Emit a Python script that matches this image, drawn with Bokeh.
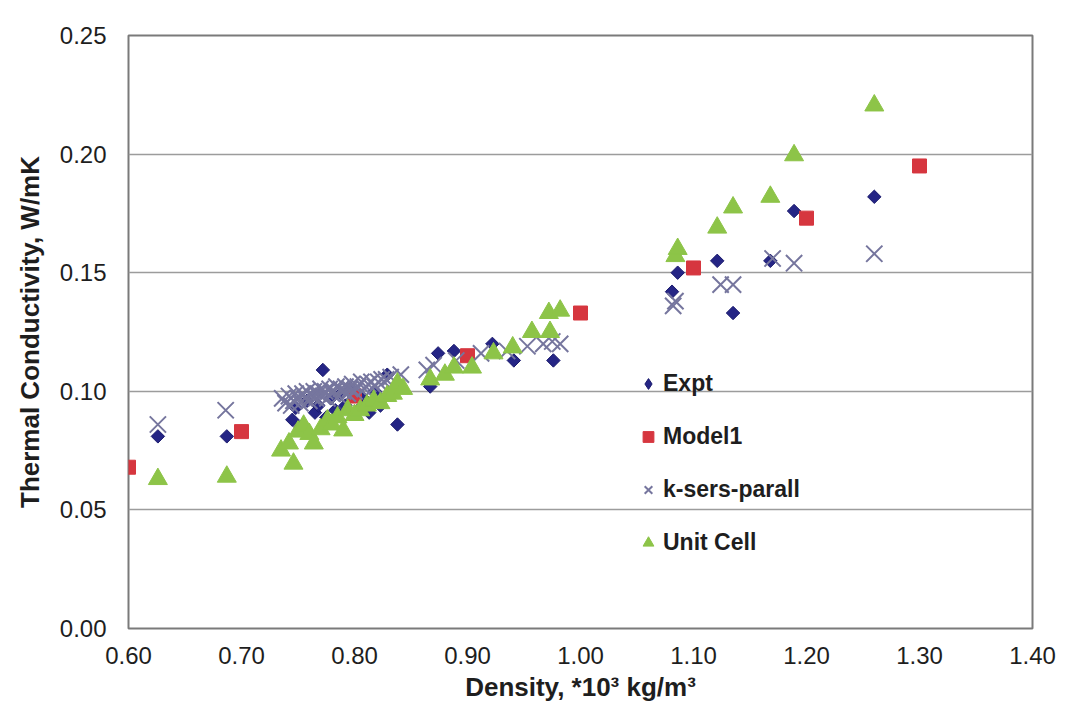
import numpy as np
from bokeh.plotting import figure
from bokeh.models import (Legend, LegendItem, FixedTicker, NumeralTickFormatter,
                          Range1d, ColumnDataSource)
from bokeh.embed import file_html
from bokeh.resources import INLINE

# Density (*10^3 kg/m^3) and thermal conductivity (W/mK) for each series
expt_x = [0.626, 0.687, 0.745, 0.748, 0.752, 0.758, 0.765, 0.768, 0.772, 0.775,
          0.779, 0.783, 0.788, 0.792, 0.797, 0.803, 0.808, 0.813, 0.818, 0.823,
          0.829, 0.838, 0.867, 0.874, 0.888, 0.922, 0.941, 0.976,
          1.081, 1.086, 1.121, 1.135, 1.168, 1.189, 1.260]
expt_y = [0.081, 0.081, 0.088, 0.093, 0.085, 0.096, 0.091, 0.094, 0.109, 0.089,
          0.097, 0.092, 0.099, 0.094, 0.101, 0.092, 0.097, 0.091, 0.100, 0.094,
          0.107, 0.086, 0.102, 0.116, 0.117, 0.120, 0.113, 0.113,
          0.142, 0.150, 0.155, 0.133, 0.155, 0.176, 0.182]

model1_x = [0.60, 0.70, 0.80, 0.90, 1.00, 1.10, 1.20, 1.30]
model1_y = [0.068, 0.083, 0.098, 0.115, 0.133, 0.152, 0.173, 0.195]

ksp_x = [0.626, 0.686,
         0.736, 0.739, 0.742, 0.744, 0.746, 0.748, 0.750, 0.752, 0.754, 0.756,
         0.758, 0.760, 0.762, 0.764, 0.766, 0.768, 0.770, 0.772, 0.774, 0.776,
         0.778, 0.780, 0.782, 0.784, 0.786, 0.788, 0.790, 0.792, 0.794, 0.796,
         0.798, 0.800, 0.803, 0.806, 0.809, 0.812, 0.815, 0.818, 0.821, 0.824,
         0.828, 0.832, 0.841, 0.864, 0.870, 0.890, 0.912,
         0.935, 0.953, 0.967, 0.975, 0.982,
         1.082, 1.084, 1.124, 1.135, 1.170, 1.189, 1.260]
ksp_y = [0.086, 0.092,
         0.097, 0.095, 0.098, 0.094, 0.096, 0.099, 0.097, 0.095, 0.099, 0.097,
         0.100, 0.096, 0.098, 0.100, 0.097, 0.099, 0.101, 0.098, 0.100, 0.097,
         0.101, 0.099, 0.100, 0.102, 0.098, 0.101, 0.100, 0.102, 0.099, 0.101,
         0.103, 0.100, 0.102, 0.104, 0.101, 0.103, 0.104, 0.102, 0.104, 0.105,
         0.105, 0.106, 0.107, 0.109, 0.111, 0.113, 0.116,
         0.117, 0.119, 0.120, 0.121, 0.120,
         0.136, 0.138, 0.145, 0.145, 0.156, 0.154, 0.158]

uc_x = [0.626, 0.687, 0.735, 0.742, 0.746, 0.750, 0.755, 0.760, 0.764, 0.770,
        0.776, 0.780, 0.785, 0.790, 0.794, 0.800, 0.805, 0.811, 0.817, 0.823,
        0.829, 0.834, 0.838, 0.843, 0.867, 0.880, 0.888, 0.904, 0.923, 0.940,
        0.957, 0.973, 0.972, 0.982,
        1.084, 1.086, 1.121, 1.135, 1.168, 1.189, 1.260]
uc_y = [0.063, 0.064, 0.075, 0.078, 0.0695, 0.083, 0.0855, 0.082, 0.078, 0.084,
        0.0877, 0.086, 0.089, 0.0835, 0.092, 0.090, 0.092, 0.094, 0.096, 0.095,
        0.098, 0.099, 0.1033, 0.101, 0.105, 0.107, 0.110, 0.110, 0.116, 0.1185,
        0.125, 0.125, 0.133, 0.134,
        0.157, 0.160, 0.169, 0.1775, 0.182, 0.1995, 0.2205]

x_ticks = [0.6, 0.7, 0.8, 0.9, 1.0, 1.1, 1.2, 1.3, 1.4]
y_ticks = [0.0, 0.05, 0.10, 0.15, 0.20, 0.25]

FONT = "Liberation Sans"
TEXT = "#1e1e1e"
NAVY = "#252585"
RED = "#d6363f"
GREY_X = "#76769e"
GREEN = "#8dc448"

p = figure(width=1069, height=713, output_backend="svg", toolbar_location=None,
           x_range=Range1d(0.6, 1.4), y_range=Range1d(0.0, 0.25),
           min_border_left=128, min_border_right=37,
           min_border_top=35, min_border_bottom=85)
p.background_fill_color = "white"
p.border_fill_color = "white"
p.outline_line_color = "#7a7a7a"
p.outline_line_width = 2

p.xgrid.grid_line_color = None
p.ygrid.grid_line_color = "#9c9c9c"
p.ygrid.grid_line_width = 1.6

for ax in (p.xaxis[0], p.yaxis[0]):
    ax.axis_line_color = None
    ax.major_tick_line_color = None
    ax.minor_tick_line_color = None
    ax.major_tick_in = 0
    ax.major_tick_out = 0
    ax.major_label_text_font = FONT
    ax.major_label_text_font_size = "24px"
    ax.major_label_text_color = TEXT
    ax.axis_label_text_font = FONT
    ax.axis_label_text_font_size = "26px"
    ax.axis_label_text_font_style = "bold"
    ax.axis_label_text_color = TEXT
    ax.formatter = NumeralTickFormatter(format="0.00")

p.xaxis.ticker = FixedTicker(ticks=x_ticks)
p.yaxis.ticker = FixedTicker(ticks=y_ticks)
p.xaxis.major_label_standoff = 18
p.yaxis.major_label_standoff = 22
p.xaxis.axis_label = "Density, *10³ kg/m³"
p.yaxis.axis_label = "Thermal Conductivity, W/mK"
p.xaxis.axis_label_standoff = 5
p.yaxis.axis_label_standoff = 12

# Data markers; Expt diamonds are squares turned by 45 degrees
p.scatter(expt_x, expt_y, marker="square", size=9.5, angle=np.pi / 4,
          fill_color=NAVY, line_color="#1b1b6e", line_width=1)
r_model = p.scatter(model1_x, model1_y, marker="square", size=14,
                    fill_color=RED, line_color=RED, line_width=1)
r_ksp = p.scatter(ksp_x, ksp_y, marker="x", size=23,
                  line_color=GREY_X, line_width=2)
r_uc = p.scatter(uc_x, uc_y, marker="triangle", size=19,
                 fill_color=GREEN, line_color=GREEN, line_width=1)

# Diamond swatch for the key (a single NaN row, so nothing lands on the plot)
k_expt = p.scatter("x", "y", source=ColumnDataSource(dict(x=[np.nan], y=[np.nan])),
                   marker="diamond", fill_color=NAVY, line_color="#1b1b6e")

legend = Legend(items=[
    LegendItem(label="Expt", renderers=[k_expt]),
    LegendItem(label="Model1", renderers=[r_model]),
    LegendItem(label="k-sers-parall", renderers=[r_ksp]),
    LegendItem(label="Unit Cell", renderers=[r_uc]),
], location=(505, 72))
legend.background_fill_alpha = 0
legend.border_line_alpha = 0
legend.padding = 0
legend.margin = 0
legend.spacing = 26
legend.glyph_width = 30
legend.glyph_height = 27
legend.label_height = 27
legend.label_standoff = 0
legend.label_text_font = FONT
legend.label_text_font_size = "23px"
legend.label_text_font_style = "bold"
legend.label_text_color = TEXT
p.add_layout(legend)

open("out.html", "w").write(file_html(p, INLINE))
